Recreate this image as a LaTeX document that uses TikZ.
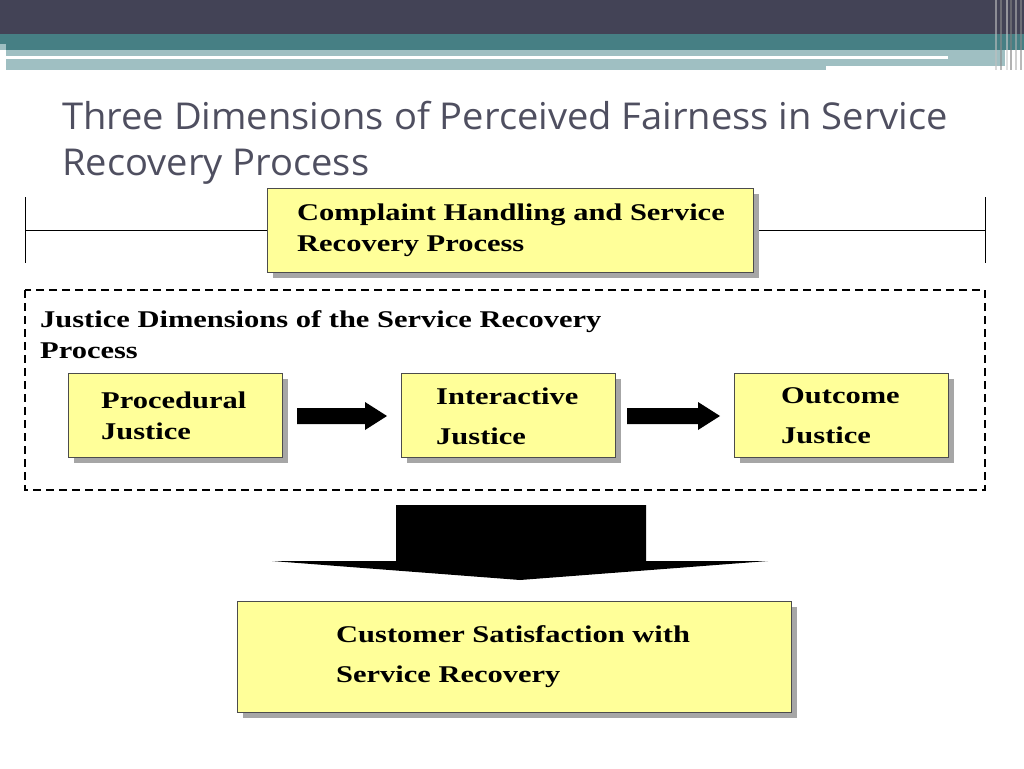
\documentclass[tikz,border=0pt]{standalone}
\usepackage{fontspec}
\setmainfont{Liberation Serif}[FakeStretch=1.27]
\newfontfamily\titlefont{Open Sans}[FakeStretch=1.03]
\begin{document}
\begin{tikzpicture}[x=1pt,y=-1pt,
  ybox/.style={draw=black!70,line width=0.8pt,fill=ybfill},
  shadowbox/.style={fill=black!35},
  lbl/.style={anchor=west,align=left,font=\fontsize{24}{31}\selectfont\bfseries,inner sep=0pt},
  lblw/.style={lbl,font=\fontsize{24}{40}\selectfont\bfseries},
  blk/.style={fill=black,draw=none}]
\definecolor{ybfill}{HTML}{FFFF99}
\definecolor{darkbar}{HTML}{434356}
\definecolor{tealbar}{HTML}{467F84}
\definecolor{lteal}{HTML}{9FBFC2}
\definecolor{titlecol}{HTML}{4F4F60}
\useasboundingbox (0,0) rectangle (1024,768);
\fill[white] (0,0) rectangle (1024,768);
% header
\fill[darkbar] (0,0) rectangle (1024,34);
\fill[tealbar] (0,34) rectangle (1024,50);
\fill[lteal] (6,50) rectangle (1005,70);
\fill[lteal] (0,44) rectangle (6,50);
\fill[white] (6,56) rectangle (948,59);
\fill[white] (826,66) rectangle (1005,70);
\foreach \xx/\cc in {995/black!25,1000/black!45,1006/black!20,1010/black!50,1015/black!30,1020/black!45}
  \fill[\cc,opacity=0.6] (\xx,0) rectangle (\xx+2,70);
\node[anchor=west,inner sep=0pt,font=\titlefont\fontsize{37}{46}\selectfont,text=titlecol,align=left] (title) at (62,143) {Three Dimensions of Perceived Fairness in Service\\Recovery Process};
% bracket line
\coordinate (l1) at (25,230); \coordinate (r1) at (985,230);
\draw[line width=1pt] (25,197) -- (25,263);
\draw[line width=1pt] (985,197) -- (985,263);
\draw[line width=1pt] (l1) -- (r1);
% top box
\fill[shadowbox] (273,194) rectangle (759,278);
\node[ybox,minimum width=486pt,minimum height=84pt,anchor=north west,inner sep=0pt] (top) at (267,188) {};
\node[lbl] (toptxt) at (297,230) {Complaint Handling and Service\\Recovery Process};
% dashed
\draw[line width=1.5pt,dash pattern=on 8pt off 5pt] (25,290) rectangle (985,490);
\node[lbl] (jd) at (40,335) {Justice Dimensions of the Service Recovery\\Process};
% three boxes
\foreach \nm/\xa in {p/68,i/401,o/734}{
  \fill[shadowbox] (\xa+6,379) rectangle (\xa+220,463);
  \node[ybox,minimum width=214pt,minimum height=84pt,anchor=north west,inner sep=0pt] (\nm) at (\xa,373) {};
}
\node[lbl] (pt) at (101,416) {Procedural\\Justice};
\node[lblw] (it) at (436,416) {Interactive\\Justice};
\node[lblw] (ot) at (781,416) {Outcome\\Justice};
% small arrows
\foreach \a/\b in {297/387,627/720}{
  \fill[blk] (\a,408) -- (\b-22,408) -- (\b-22,402) -- (\b,416) -- (\b-22,430) -- (\b-22,424) -- (\a,424) -- cycle;
}
% big arrow
\fill[blk] (396,505) -- (646,505) -- (646,561) -- (768,561) -- (520,580) -- (272,561) -- (396,561) -- cycle;
% bottom box
\fill[shadowbox] (243,607) rectangle (797,718);
\node[ybox,minimum width=554pt,minimum height=111pt,anchor=north west,inner sep=0pt] (bot) at (237,601) {};
\node[lblw] (bt) at (336,657) {Customer Satisfaction with\\Service Recovery};
\end{tikzpicture}
\end{document}
